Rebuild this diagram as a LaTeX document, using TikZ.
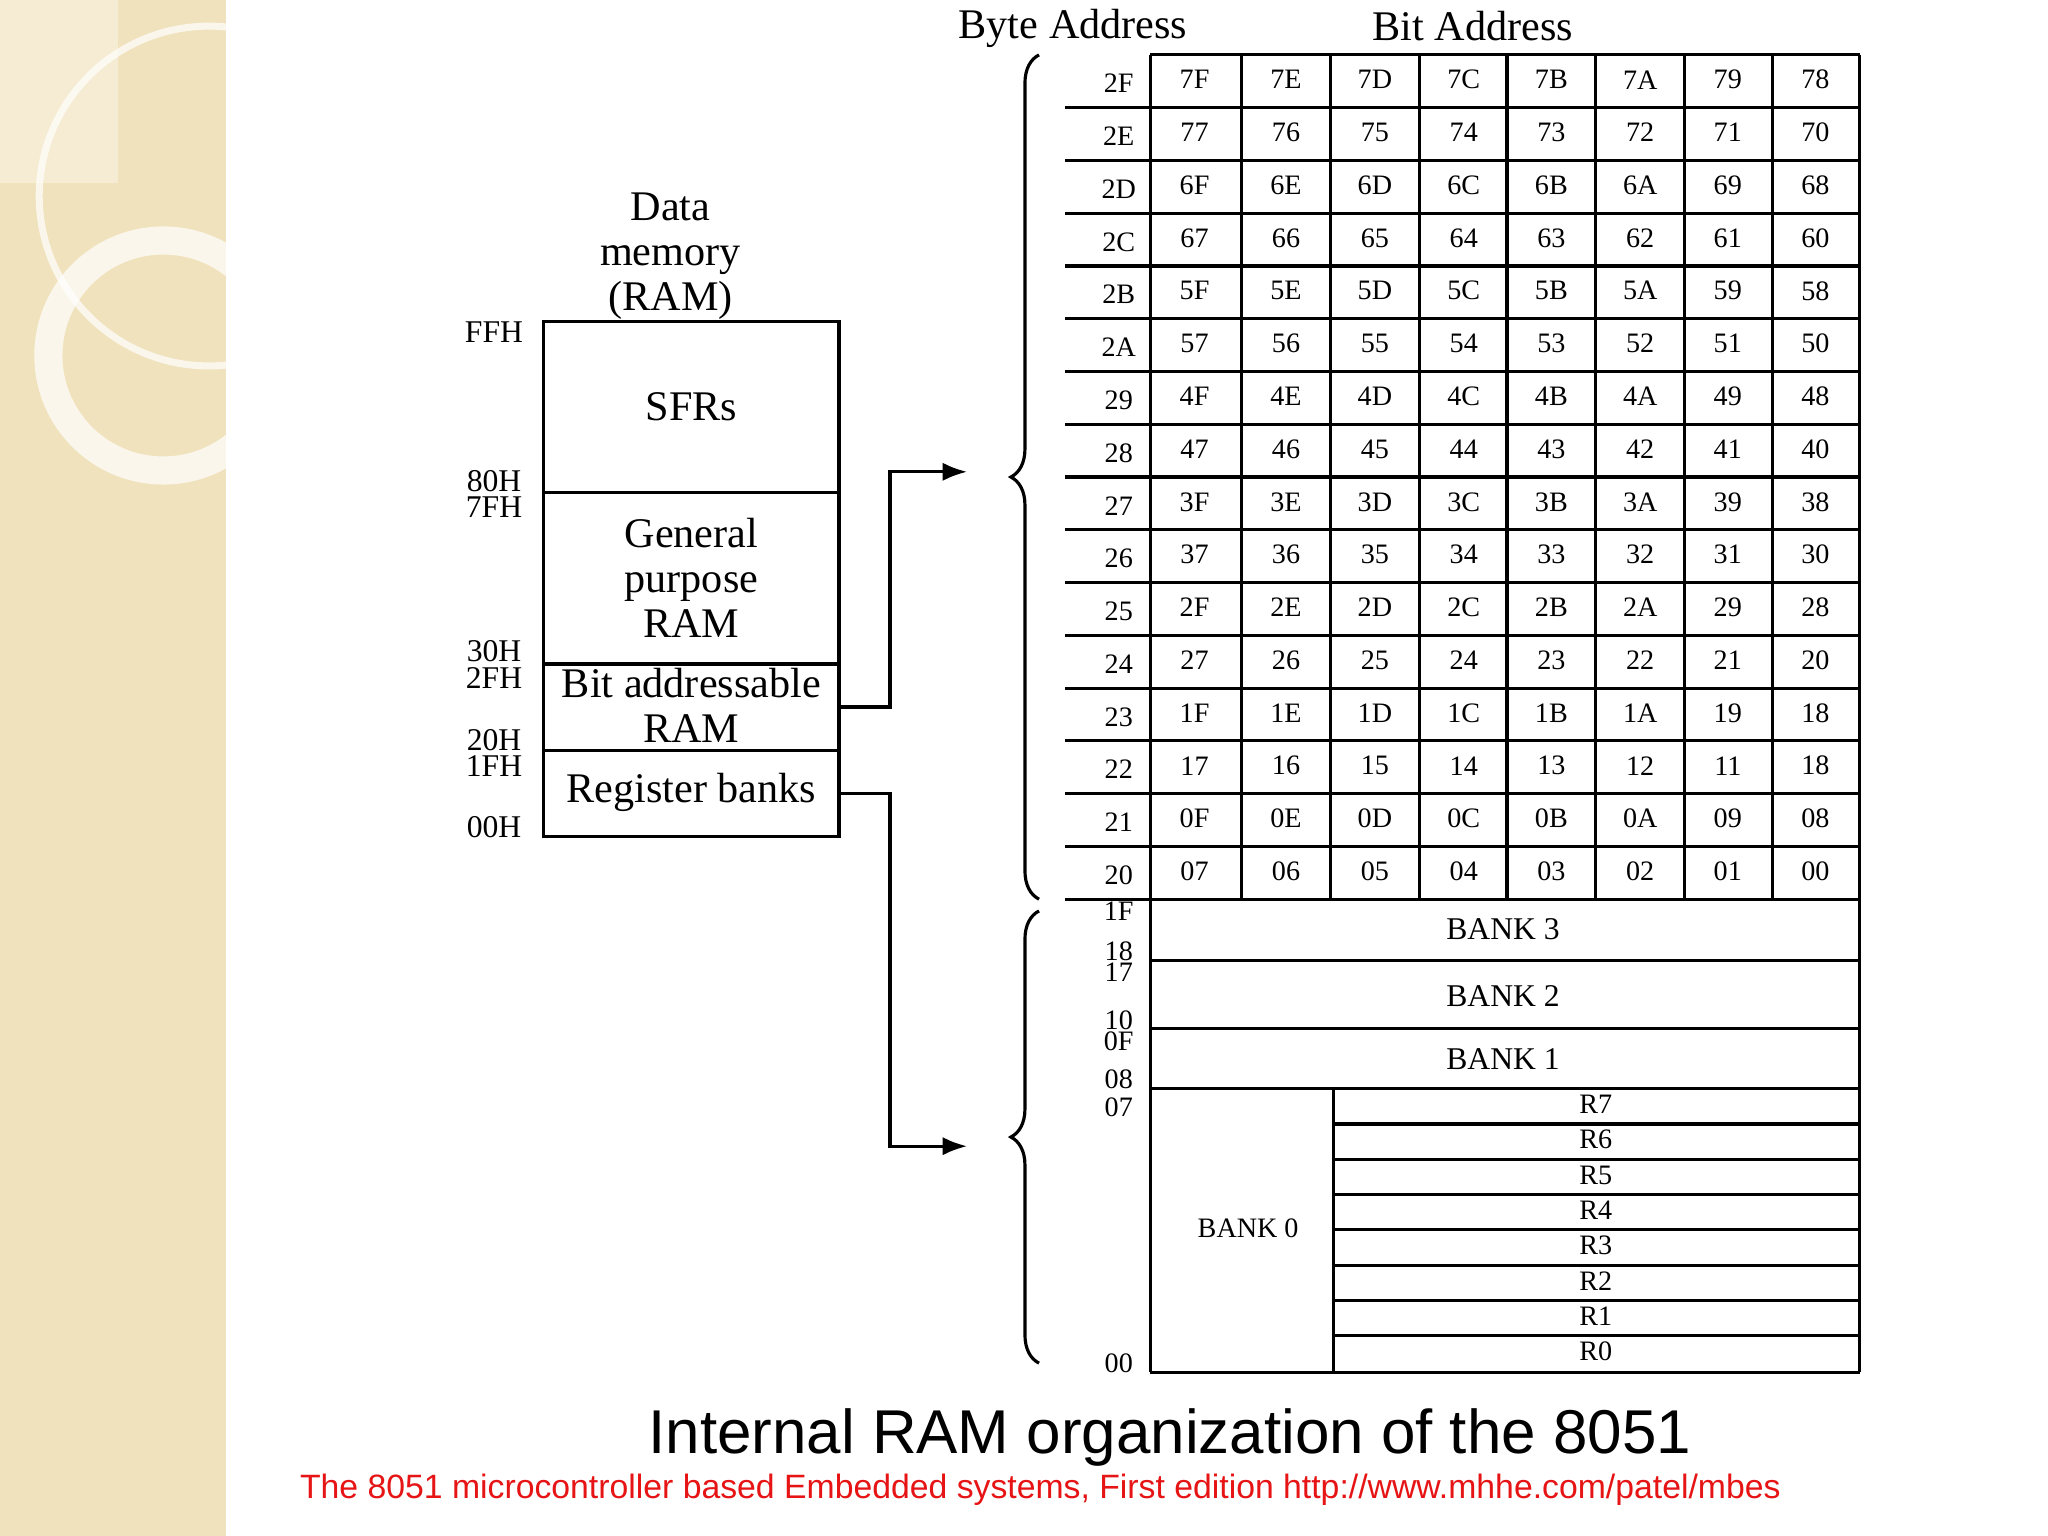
\documentclass[tikz,border=0pt]{standalone}
\usepackage{fontspec}
\setmainfont{Liberation Serif}
\newfontfamily\capfont{Liberation Sans}
\usetikzlibrary{decorations.pathreplacing,arrows.meta}
\definecolor{beige}{RGB}{240,226,188}
\definecolor{capred}{RGB}{230,20,20}
\tikzset{gl/.style={line width=0.9pt},
 bt/.style={font=\fontsize{8}{9}\selectfont},
 lbl/.style={font=\fontsize{9}{10}\selectfont},
 blk/.style={font=\fontsize{12}{12.8}\selectfont,align=center}}
\begin{document}
\begin{tikzpicture}[x=0.013065cm,y=-0.013065cm]
\useasboundingbox (0,0) rectangle (1567,1175);
\fill[white] (0,0) rectangle (1567,1175);
\begin{scope}
\clip (0,0) rectangle (173,1175);
\fill[beige] (0,0) rectangle (173,1175);
\fill[white,opacity=0.35] (0,0) rectangle (90,140);
\draw[white,opacity=0.7,line width=2pt] (160,150) circle (130);
\draw[white,opacity=0.7,line width=8pt] (125,272) circle (88);
\end{scope}
% titles
\node[font=\fontsize{12}{13}\selectfont] (ba) at (821,22) {Byte Address};
\node[font=\fontsize{12}{13}\selectfont] (bia) at (1127,20) {Bit Address};
% grid
\foreach \x in {950,1018,1086,1153,1221,1289,1356} \draw[gl] (\x,42) -- (\x,688);
\draw[gl] (880,42) -- (880,1050);
\draw[gl] (1423,42) -- (1423,1050);
\draw[gl] (880,42) -- (1423,42);
\foreach \i in {1,...,16} \draw[gl] (815,{42+\i*40.375}) -- (1423,{42+\i*40.375});
\foreach [count=\r from 0] \b/\row in {
2F/{7F,7E,7D,7C,7B,7A,79,78},2E/{77,76,75,74,73,72,71,70},
2D/{6F,6E,6D,6C,6B,6A,69,68},2C/{67,66,65,64,63,62,61,60},
2B/{5F,5E,5D,5C,5B,5A,59,58},2A/{57,56,55,54,53,52,51,50},
29/{4F,4E,4D,4C,4B,4A,49,48},28/{47,46,45,44,43,42,41,40},
27/{3F,3E,3D,3C,3B,3A,39,38},26/{37,36,35,34,33,32,31,30},
25/{2F,2E,2D,2C,2B,2A,29,28},24/{27,26,25,24,23,22,21,20},
23/{1F,1E,1D,1C,1B,1A,19,18},22/{17,16,15,14,13,12,11,18},
21/{0F,0E,0D,0C,0B,0A,09,08},20/{07,06,05,04,03,02,01,00}}{
 \node[bt] (b\b) at (856,{64+\r*40.375}) {\b};
 \foreach [count=\c from 0] \v in \row {
  \pgfmathsetmacro\xx{{914,984,1052,1120,1187,1255,1322,1389}[\c]}
  \node[bt] at (\xx,{61+\r*40.375}) {\v};
 }
}
% banks
\foreach \y in {735,787,833} \draw[gl] (880,\y) -- (1423,\y);
\draw[gl] (880,1050) -- (1423,1050);
\draw[gl] (1020,833) -- (1020,1050);
\foreach \y in {860,887,914,941,968,995,1022} \draw[gl] (1020,\y) -- (1423,\y);
\node[lbl] at (1150,711) {BANK 3};
\node[lbl] at (1150,762) {BANK 2};
\node[lbl] at (1150,810) {BANK 1};
\node[bt] at (955,940) {BANK 0};
\foreach [count=\k from 0] \t in {R7,R6,R5,R4,R3,R2,R1,R0}
  \node[bt] at (1221,{845+\k*27}) {\t};
\foreach \t/\y in {1F/697,18/728,17/744,10/781,0F/797,08/826,07/847,00/1043}
  \node[bt,inner sep=0pt] at (856,\y) {\t};
% braces
\draw[gl,decorate,decoration={brace,amplitude=8pt}] (795,688) -- (795,42);
\draw[gl,decorate,decoration={brace,amplitude=8pt}] (795,1043) -- (795,697);
\coordinate (ua) at (740,361);
\coordinate (la) at (740,877);
% memory block
\node[blk] at (513,196) {Data\\memory\\(RAM)};
\draw[gl] (416,246) rectangle (642,640);
\foreach \y in {377,508,574} \draw[gl] (416,\y) -- (642,\y);
\node[blk] (sfr) at (529,311) {SFRs};
\node[blk] (gp) at (529,442) {General\\purpose\\RAM};
\node[blk] (bar) at (529,540) {Bit addressable\\RAM};
\node[blk] (rb) at (529,606) {Register banks};
\foreach \t/\y in {FFH/254,80H/368,7FH/388,30H/498,2FH/519,20H/566,1FH/586,00H/633}
  \node[lbl,inner sep=0pt] at (378,\y) {\t};
\draw[gl,-{Latex[length=7pt]}] (642,541) -- (681,541) -- (681,361) -- (ua);
\draw[gl,-{Latex[length=7pt]}] (642,607) -- (681,607) -- (681,877) -- (la);
% captions
\node[font=\capfont\fontsize{17.6}{19}\selectfont] at (895,1100) {Internal RAM organization of the 8051};
\node[font=\capfont\fontsize{9.6}{10}\selectfont,text=capred] at (796,1140) {The 8051 microcontroller based Embedded systems, First edition http://www.mhhe.com/patel/mbes};
\end{tikzpicture}
\end{document}
